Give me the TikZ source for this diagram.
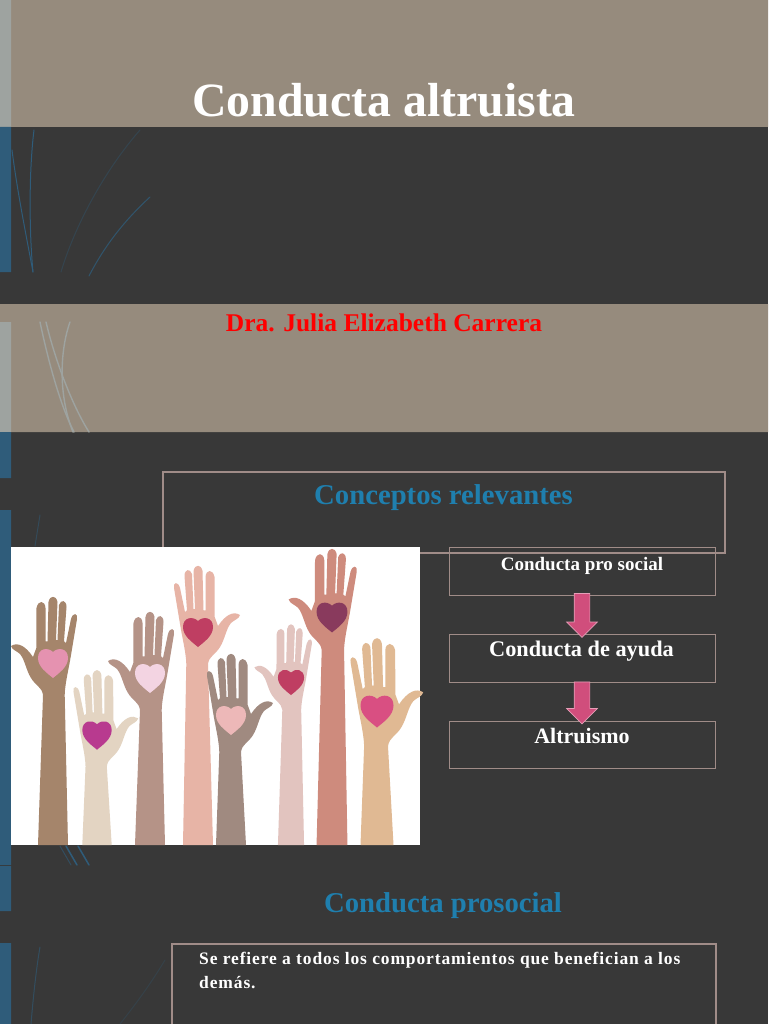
\documentclass[tikz,border=0pt]{standalone}
\usepackage{fontspec}
\setmainfont{Liberation Serif}
\usepackage{xcolor}
\usetikzlibrary{shapes.arrows, calc}

\definecolor{slideDark}{HTML}{383838}
\definecolor{band}{HTML}{968B7D}
\definecolor{barBlue}{HTML}{2F5C7A}
\definecolor{barGrey}{HTML}{9EA3A0}
\definecolor{frameRose}{HTML}{A08C88}
\definecolor{headBlue}{HTML}{1F7FAE}
\definecolor{arrowPink}{HTML}{D04E7C}

\definecolor{skinA}{HTML}{A5856B}
\definecolor{skinB}{HTML}{E3D4C2}
\definecolor{skinC}{HTML}{B59387}
\definecolor{skinD}{HTML}{E7B4A6}
\definecolor{skinE}{HTML}{A08A80}
\definecolor{skinF}{HTML}{E2C4BF}
\definecolor{skinG}{HTML}{CE8B7D}
\definecolor{skinH}{HTML}{E0B993}
\definecolor{heartA}{HTML}{E592B0}
\definecolor{heartB}{HTML}{B83A8F}
\definecolor{heartC}{HTML}{F3D4E2}
\definecolor{heartD}{HTML}{BF3E62}
\definecolor{heartE}{HTML}{EDB8B8}
\definecolor{heartG}{HTML}{893A5D}
\definecolor{heartH}{HTML}{D94F82}

\tikzset{
    bandrect/.style={fill=band, draw=none},
    barrect/.style={fill=barBlue, draw=none},
    barlight/.style={fill=barGrey, draw=none},
    wisp/.style={draw=barBlue, line width=1pt, line cap=round},
    wisplight/.style={draw=barGrey, line width=1.4pt, line cap=round},
    framebox/.style={rectangle, draw=frameRose, inner sep=0pt, outer sep=0pt},
    boxtext/.style={text=white, font=\bfseries\fontsize{#1}{#1}\selectfont, inner sep=0pt},
    headtext/.style={text=headBlue, font=\bfseries\fontsize{28.7}{30}\selectfont, inner sep=0pt},
    downarrow/.style={single arrow, rotate=-90, fill=arrowPink, draw=arrowPink!55!white, line width=.7pt,
        inner xsep=0pt, inner ysep=7.5pt, single arrow head extend=7.5pt, outer sep=0pt,
        single arrow tip angle=90}
}

% x, y of the heart, mirror (1 thumb left, -1 thumb right), size, skin, heart
\newcommand{\drawhand}[6]{
    \pgfmathsetmacro{\armend}{(845-#2)/#4}
    \begin{scope}[shift={(#1,#2)}, xscale=#3*#4, yscale=#4]
        \fill[#5] (-42,-17) .. controls (-36,-21) and (-28,-18) .. (-20,-6)
            -- (-16.7,-15) -- (-16.5,-55) .. controls (-15,-63) and (-8,-63) .. (-7.5,-55)
            -- (-7.5,-21.7) -- (-5.5,-21.7) -- (-4.5,-61) .. controls (-3,-68) and (3,-68) .. (4.5,-61)
            -- (3,-23) -- (4.5,-23) -- (6,-58) .. controls (8,-64) and (13.5,-63) .. (13.5,-56)
            -- (11,-21.7) -- (13,-20) -- (18,-44) .. controls (20,-51) and (25,-50) .. (24,-44)
            -- (18,-8) .. controls (16,5) and (12,20) .. (11.7,32)
            -- (15,\armend) -- (-15,\armend) -- (-10,32)
            .. controls (-11,24) and (-18,22) .. (-22,15)
            .. controls (-27,7) and (-28,-3) .. (-33,-9)
            .. controls (-36,-12) and (-41,-13) .. cycle;
        \fill[#6] (0,-11) .. controls (5,-16) and (15,-15) .. (15,-5)
            .. controls (15,4) and (6,10) .. (0,15)
            .. controls (-6,10) and (-15,4) .. (-15,-5)
            .. controls (-15,-15) and (-5,-16) .. (0,-11);
    \end{scope}
}

\begin{document}
\begin{tikzpicture}[x=1pt, y=-1pt]
    \useasboundingbox (0,0) rectangle (768,1024);
    \fill[slideDark] (0,0) rectangle (768,1024);

    % bands and side bars
    \path[bandrect] (0,0) rectangle (768,127)
        (0,304) rectangle (768,432);
    \path[barlight] (0,0) rectangle (11,127)
        (0,322) rectangle (11,432);
    \path[barrect] (0,127) rectangle (11,272)
        (0,432) rectangle (11,478)
        (0,510) rectangle (11,865)
        (0,866) rectangle (11,911)
        (0,943) rectangle (11,1024);

    % grass
    \draw[wisp] (12,150) .. controls (17,190) and (27,240) .. (33,272);
    \draw[wisp] (34,130) .. controls (29,170) and (29,230) .. (33,272);
    \draw[wisp, opacity=.35] (140,130) .. controls (105,170) and (75,225) .. (61,272);
    \draw[wisp, opacity=.8] (150,197) .. controls (125,220) and (105,245) .. (89,276);
    \draw[wisplight] (40,322) .. controls (48,360) and (60,405) .. (74,432);
    \draw[wisplight] (46,322) .. controls (55,360) and (72,405) .. (89,432);
    \draw[wisplight] (70,322) .. controls (60,350) and (58,395) .. (73,432);
    \draw[wisp, opacity=.5] (40,515) -- (35,546);
    \draw[wisp, line width=1.5pt] (66,846) -- (77,865)
        (78,846) -- (89,865);
    \draw[wisp, opacity=.6] (60,846) -- (71,865);
    \draw[wisp, opacity=.6] (40,947) .. controls (36,970) and (33,1000) .. (31,1024);
    \draw[wisp, opacity=.25] (165,960) .. controls (150,985) and (135,1005) .. (120,1024);

    \node[text=white, font=\bfseries\fontsize{47.8}{50}\selectfont, inner sep=0pt] (title) at (384,100) {Conducta altruista};
    \node[text=red, font=\bfseries\fontsize{25.5}{27}\selectfont, inner sep=0pt] (author) at (384,323) {Dra. Julia Elizabeth Carrera};

    \node[framebox, line width=1.5pt, minimum width=562pt, minimum height=81pt] (concepts) at (444,512.5) {};
    \node[headtext] (conceptsText) at (443.5,498) {Conceptos relevantes};

    % boxes on the right
    \node[framebox, minimum width=266pt, minimum height=48pt] (pro) at (582,571) {};
    \node[framebox, minimum width=266pt, minimum height=48pt] (help) at (582,658) {};
    \node[framebox, minimum width=266pt, minimum height=47pt] (altruism) at (582,744.5) {};
    \node[boxtext=19] (proText) at (582,566) {Conducta pro social};
    \node[boxtext=22.3] (helpText) at (581.5,651) {Conducta de ayuda};
    \node[boxtext=22] (altruismText) at (582,736) {Altruismo};
    \node[downarrow, minimum height=44pt] (arrowA) at ($(pro.south)!.5!(help.north)+(0,-3)$) {};
    \node[downarrow, minimum height=42pt] (arrowB) at ($(help.south)!.5!(altruism.north)+(0,-2.5)$) {};

    % picture of the hands
    \fill[white] (11,547) rectangle (420,845);
    \drawhand{53}{663}{1}{1}{skinA}{heartA}
    \drawhand{97}{735}{-1}{.98}{skinB}{heartB}
    \drawhand{150}{678}{1}{1}{skinC}{heartC}
    \drawhand{198}{632}{-1}{1}{skinD}{heartD}
    \drawhand{231}{720}{-1}{1}{skinE}{heartE}
    \drawhand{291}{682}{1}{.87}{skinF}{heartD}
    \drawhand{332}{617}{1}{1.03}{skinG}{heartG}
    \drawhand{377}{711}{-1}{1.1}{skinH}{heartH}

    \node[headtext] (prosocialText) at (443,906) {Conducta prosocial};

    \draw[frameRose, line width=1.5pt] (172,1030) -- (172,944) -- (716,944) -- (716,1030);
    \node[boxtext=17.5, anchor=west] (defA) at (199,960) {\addfontfeature{LetterSpace=5}Se refiere a todos los comportamientos que benefician a los};
    \node[boxtext=17.5, anchor=west] (defB) at (199,983) {\addfontfeature{LetterSpace=5}demás.};
\end{tikzpicture}
\end{document}
